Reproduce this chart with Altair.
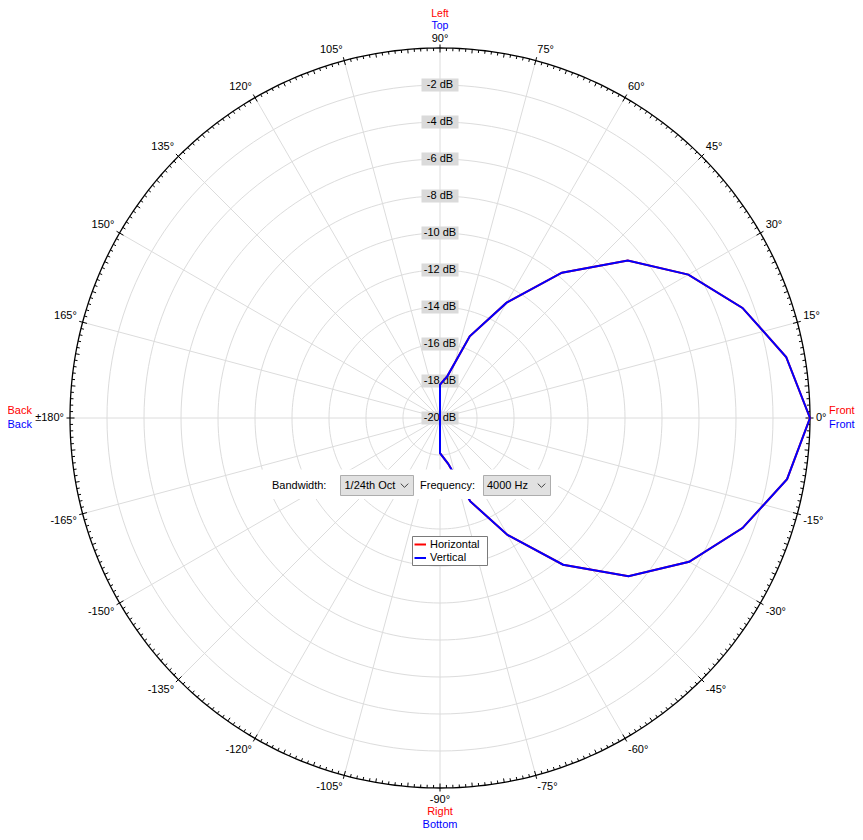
import altair as alt
import numpy as np
import pandas as pd

# ---------------- data ----------------
angles = list(range(0, 360, 10))          # degrees, 0 = Front, counter-clockwise
vertical_db = [0.0, -1.0, -2.6, -4.5, -6.75, -9.75, -12.8, -15.3, -17.7, -18.2,
               -20, -20, -20, -20, -20, -20, -20, -20, -20, -20, -20, -20, -20, -20, -20, -20, -20,
               -18.1, -17.5, -15.2, -12.7, -9.65, -6.7, -4.45, -2.6, -0.95]
# horizontal series lies exactly under the vertical one (hidden)
horizontal_db = [0.0, -1.0, -2.6, -4.5, -6.75, -9.75, -12.8, -15.3, -17.7, -18.2,
                 -20, -20, -20, -20, -20, -20, -20, -20, -20, -20, -20, -20, -20, -20, -20, -20, -20,
                 -18.1, -17.5, -15.2, -12.7, -9.65, -6.7, -4.45, -2.6, -0.95]

ring_levels = [-18, -16, -14, -12, -10, -8, -6, -4, -2]
db_label_levels = [-2, -4, -6, -8, -10, -12, -14, -16, -18, -20]
spoke_angles = list(range(0, 360, 15))
angle_label_text = ["0°", "15°", "30°", "45°", "60°", "75°", "90°", "105°", "120°", "135°",
                    "150°", "165°", "±180°", "-165°", "-150°", "-135°", "-120°", "-105°",
                    "-90°", "-75°", "-60°", "-45°", "-30°", "-15°"]
side_text = ["Left", "Top", "Right", "Bottom", "Front", "Front", "Back", "Back"]
side_angle = [90, 90, 270, 270, 0, 0, 180, 180]
series_names = ["Horizontal", "Vertical"]
bandwidth_text = "1/24th Oct"
frequency_text = "4000 Hz"

# ---------------- layout / style ----------------
W, H = 847, 824
CX, CY = 432, 410          # centre of the polar plot in view pixels
PX = 18.5                  # pixels per dB
R = 20                     # 0 dB ring = 20 units from centre (-20 dB)
XD = [-CX / PX, (W - CX) / PX]
YD = [-(H - CY) / PX, CY / PX]
XS = alt.Scale(domain=XD, nice=False, zero=False)
YS = alt.Scale(domain=YD, nice=False, zero=False)
FONT = "Liberation Sans"
FS = 11
GRID = "#dcdcdc"
RED = "#ff0000"
BLUE = "#0000ff"


def X(f="x"):
    return alt.X(f"{f}:Q", scale=XS, axis=None)


def Y(f="y"):
    return alt.Y(f"{f}:Q", scale=YS, axis=None)


def cart(ch, r="r", a="a", xo="x", yo="y"):
    return (ch.transform_calculate(**{xo: f"datum.{r}*cos(datum.{a}*PI/180)"})
              .transform_calculate(**{yo: f"datum.{r}*sin(datum.{a}*PI/180)"}))


layers = []

# rings
ring_df = pd.DataFrame([(lv, a) for lv in ring_levels for a in range(0, 361, 2)], columns=["lv", "a"])
rings = cart(alt.Chart(ring_df).transform_calculate(r="datum.lv + 20")).mark_line(
    color=GRID, strokeWidth=1).encode(x=X(), y=Y(), detail="lv:N", order="a:Q")
layers.append(rings)

# spokes
spoke_df = pd.DataFrame({"a": spoke_angles})
spokes = (alt.Chart(spoke_df)
          .transform_calculate(x0="0", y0="0")
          .transform_calculate(x1=f"{R}*cos(datum.a*PI/180)")
          .transform_calculate(y1=f"{R}*sin(datum.a*PI/180)")
          .mark_rule(color=GRID, strokeWidth=1)
          .encode(x=X("x0"), y=Y("y0"), x2="x1:Q", y2="y1:Q"))
layers.append(spokes)

# outer circle
outer_df = pd.DataFrame({"a": list(range(0, 361, 1))})
outer = cart(alt.Chart(outer_df).transform_calculate(r=f"{R}")).mark_line(
    color="#000000", strokeWidth=1.3).encode(x=X(), y=Y(), order="a:Q")
layers.append(outer)

# ticks on outer circle
tick_df = pd.DataFrame({"a": list(range(0, 360, 1))})
ticks = (alt.Chart(tick_df)
         .transform_calculate(rin=f"{R} - (datum.a % 15 == 0 ? 4.5 : (datum.a % 5 == 0 ? 4 : 3)) / {PX}")
         .transform_calculate(rout=f"{R} + (datum.a % 15 == 0 ? 3.5 : 0) / {PX}")
         .transform_calculate(x1="datum.rin*cos(datum.a*PI/180)", y1="datum.rin*sin(datum.a*PI/180)")
         .transform_calculate(x2="datum.rout*cos(datum.a*PI/180)", y2="datum.rout*sin(datum.a*PI/180)")
         .mark_rule(color="#000000", strokeWidth=1)
         .encode(x=X("x1"), y=Y("y1"), x2="x2:Q", y2="y2:Q"))
layers.append(ticks)

# dB labels with grey boxes
BOX = "M-1,-0.3514L1,-0.3514L1,0.3514L-1,0.3514Z"
lab_df = pd.DataFrame({"lv": db_label_levels})
lab_base = alt.Chart(lab_df).transform_calculate(x="0", y="datum.lv + 20", t="datum.lv + ' dB'")
layers.append(lab_base.mark_point(shape=BOX, size=37 * 37, filled=True, color="#dadada",
                                  opacity=1, strokeWidth=0).encode(x=X(), y=Y()))
layers.append(lab_base.mark_text(font=FONT, fontSize=FS, color="#000000").encode(
    x=X(), y=Y(), text="t:N"))

# data curves
for name, vals, col in [(series_names[0], horizontal_db, RED), (series_names[1], vertical_db, BLUE)]:
    df = pd.DataFrame({"idx": list(range(len(angles))) + [len(angles)],
                       "a": angles + [360],
                       "db": vals + [vals[0]]})
    ln = cart(alt.Chart(df).transform_calculate(r="max(datum.db, -20) + 20")).mark_line(
        color=col, strokeWidth=2).encode(x=X(), y=Y(), order="idx:Q")
    layers.append(ln)

# angle labels
ang_df = pd.DataFrame({"a": spoke_angles, "t": angle_label_text})
RA = 376 / PX
groups = [
    ("datum.a == 0", "left", "middle", 0),
    ("datum.a > 0 && datum.a < 90", "left", "bottom", 0),
    ("datum.a == 90", "center", "bottom", 1.5),
    ("datum.a > 90 && datum.a < 180", "right", "bottom", 0),
    ("datum.a == 180", "right", "middle", 0),
    ("datum.a > 180 && datum.a < 270", "right", "top", 0),
    ("datum.a == 270", "center", "top", 0),
    ("datum.a > 270", "left", "top", 0),
]
for flt, al, bl, dy in groups:
    ch = cart(alt.Chart(ang_df).transform_filter(flt).transform_calculate(r=f"{RA}"))
    layers.append(ch.mark_text(font=FONT, fontSize=FS, color="#000000", align=al, baseline=bl, dy=dy)
                  .encode(x=X(), y=Y(), text="t:N"))

# side labels (Left/Top, Right/Bottom, Front/Front, Back/Back)
side_cols = [RED, BLUE, RED, BLUE, RED, BLUE, RED, BLUE]
side_style = [("center", 0, -28.5, 10.5), ("center", 0, -16.5, 10.5),
              ("center", 0, 18, 11), ("center", 0, 31, 11),
              ("left", 13, -7, 11), ("left", 13, 7, 11), ("right", -32, -7, 11), ("right", -32, 7, 11)]
side_df = pd.DataFrame({"a": side_angle, "t": side_text, "i": list(range(len(side_text)))})
for i, (al, dx, dy, fs) in enumerate(side_style):
    ch = cart(alt.Chart(side_df).transform_filter(f"datum.i == {i}").transform_calculate(r=f"{RA}"))
    layers.append(ch.mark_text(font=FONT, fontSize=fs, color=side_cols[i], align=al,
                               baseline="middle", dx=dx, dy=dy)
                  .encode(x=X(), y=Y(), text="t:N"))

# ---------------- control widgets & legend ----------------
one = pd.DataFrame({"k": [0]})
base = alt.Chart(one)
CHEV = "M-1,-0.5L0,0.5L1,-0.5"

layers.append(base.mark_rect(color="#ffffff").encode(
    x=alt.value(254), x2=alt.value(550), y=alt.value(461.5), y2=alt.value(491)))
layers.append(base.mark_text(font=FONT, fontSize=FS, color="#000", align="left", baseline="middle",
                             text="Bandwidth:").encode(x=alt.value(264), y=alt.value(478)))
layers.append(base.mark_rect(fill="#e1e1e1", stroke="#adadad", strokeWidth=1).encode(
    x=alt.value(332.5), x2=alt.value(405.5), y=alt.value(467.5), y2=alt.value(487.5)))
layers.append(base.mark_text(font=FONT, fontSize=FS, color="#000", align="left", baseline="middle",
                             text=bandwidth_text).encode(x=alt.value(336.5), y=alt.value(478)))
layers.append(base.mark_point(shape=CHEV, size=56, filled=False, color="#404040", strokeWidth=1,
                              opacity=1).encode(x=alt.value(396.5), y=alt.value(477.5)))
layers.append(base.mark_text(font=FONT, fontSize=FS, color="#000", align="left", baseline="middle",
                             text="Frequency:").encode(x=alt.value(412), y=alt.value(478)))
layers.append(base.mark_rect(fill="#e1e1e1", stroke="#adadad", strokeWidth=1).encode(
    x=alt.value(475.5), x2=alt.value(542.5), y=alt.value(467.5), y2=alt.value(487.5)))
layers.append(base.mark_text(font=FONT, fontSize=FS, color="#000", align="left", baseline="middle",
                             text=frequency_text).encode(x=alt.value(479), y=alt.value(478)))
layers.append(base.mark_point(shape=CHEV, size=56, filled=False, color="#404040", strokeWidth=1,
                              opacity=1).encode(x=alt.value(533.5), y=alt.value(477.5)))

# legend
layers.append(base.mark_rect(fill="#ffffff", stroke="#7a7a7a", strokeWidth=1).encode(
    x=alt.value(404.5), x2=alt.value(479.5), y=alt.value(528.5), y2=alt.value(557.5)))
for j, (nm, col) in enumerate(zip(series_names, [RED, BLUE])):
    yy = 536.5 + j * 13.5
    layers.append(base.mark_rule(color=col, strokeWidth=2).encode(
        x=alt.value(406.5), x2=alt.value(418), y=alt.value(yy)))
    layers.append(base.mark_text(font=FONT, fontSize=FS, color="#000", align="left",
                                 baseline="middle", text=nm).encode(x=alt.value(422), y=alt.value(yy)))

chart = alt.layer(*layers).properties(
    width=W, height=H, padding=0,
    autosize=alt.AutoSizeParams(type="none"),
    background="#ffffff",
).configure_view(stroke=None)

chart.save("out.html", embed_options={"renderer": "svg", "actions": False})
